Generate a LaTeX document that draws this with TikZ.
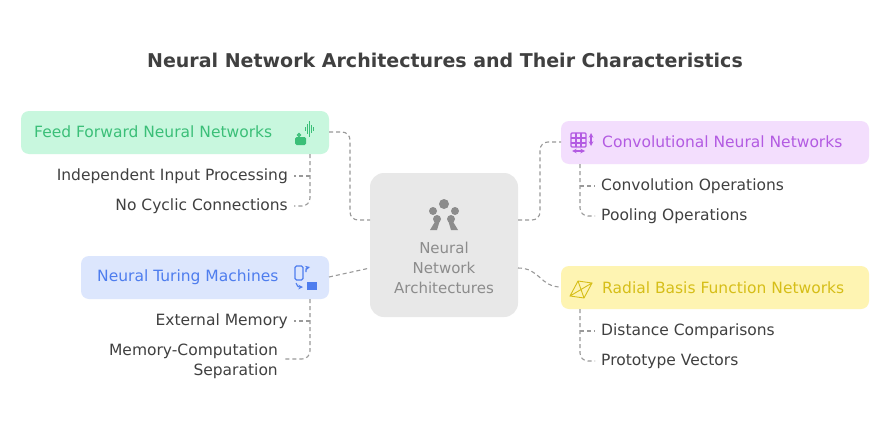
\documentclass[tikz,border=0pt]{standalone}
\usepackage{fontspec}
\setmainfont{DejaVu Sans}
\begin{document}
\begin{tikzpicture}[x=1pt,y=-1pt,
  sub/.style={font=\fontsize{15.5}{20}\selectfont,text=black!75,inner sep=0pt},
  hd/.style={font=\fontsize{15.5}{20}\selectfont,anchor=west,inner sep=0pt},
  conn/.style={draw=black!40,dashed,line width=1.1pt,dash pattern=on 4pt off 3pt,rounded corners=8pt}]
\definecolor{gF}{HTML}{C8F7DE}\definecolor{gT}{HTML}{3BBF78}
\definecolor{bF}{HTML}{DCE6FD}\definecolor{bT}{HTML}{4E7DEE}
\definecolor{pF}{HTML}{F3DEFD}\definecolor{pT}{HTML}{B35BE2}
\definecolor{yF}{HTML}{FEF4B2}\definecolor{yT}{HTML}{D6BE18}
\useasboundingbox (0,0) rectangle (890,420);
\fill[white] (0,0) rectangle (890,420);
\node[font=\fontsize{19}{22}\selectfont\bfseries,text=black!75] (title) at (445,60) {Neural Network Architectures and Their Characteristics};
% center
\fill[black!9,rounded corners=14pt] (370,173) rectangle (518,317);
\node[text=black!45,align=center,font=\fontsize{15}{20}\selectfont] (c) at (444,268) {Neural\\Network\\Architectures};
\node (cen) at (444,245) [minimum width=148pt,minimum height=144pt] {};
\begin{scope}[black!45]
 \fill (444,204) circle (5);\fill (433,211) circle (4);\fill (455,211) circle (4);
 \fill (437,219) circle (4);\fill (451,219) circle (4);
 \fill (430,230)--(436,220)--(440,220)--(437,230)--cycle;
 \fill (458,230)--(452,220)--(448,220)--(451,230)--cycle;
\end{scope}
% boxes
\fill[gF,rounded corners=8pt] (21,111) rectangle (329,154);
\node[text=gT,hd] (ff) at (34,132) {Feed Forward Neural Networks};
\fill[bF,rounded corners=8pt] (81,256) rectangle (329,299);
\node[text=bT,hd] (ntm) at (97,277) {Neural Turing Machines};
\fill[pF,rounded corners=8pt] (561,121) rectangle (869,164);
\node[text=pT,hd] (cnn) at (602,142) {Convolutional Neural Networks};
\fill[yF,rounded corners=8pt] (561,266) rectangle (869,309);
\node[text=yT,hd] (rbf) at (602,288) {Radial Basis Function Networks};
% icons
\begin{scope}[gT,line width=1.2pt]
 \draw (299,135) circle (1.5);\fill[rounded corners=1.5pt] (295,137) rectangle (306,145);
 \foreach \i/\h in {0/4,2/7,4/10,6/6,8/4}{\draw[line width=0.8pt] (305+\i,131-\h)--(305+\i,131+\h-4);}
\end{scope}
\begin{scope}[pT,line width=1.1pt]
 \draw[rounded corners=1pt] (571,133) rectangle (586,147);
 \draw (571,138)--(586,138) (571,143)--(586,143) (576,133)--(576,147) (581,133)--(581,147);
 \draw[<->,>=stealth] (591,133)--(591,146);
 \draw[<->,>=stealth] (572,151)--(585,151);
\end{scope}
\begin{scope}[bT,line width=1.1pt]
 \draw[rounded corners=1.5pt] (295,266) rectangle (303,280);
 \draw[->,>=stealth] (306,272) .. controls (306,268) .. (310,267);
 \draw[->,>=stealth] (296,283) .. controls (298,287) .. (303,287);
 \fill (307,282) rectangle (317,290);
\end{scope}
\begin{scope}[yT,line width=0.9pt]
 \draw (570,296)--(578,281)--(592,283)--(584,298)--cycle (570,296)--(592,283) (578,281)--(584,298);
\end{scope}
% sub items
\node[sub,anchor=east] (f1) at (288,176) {Independent Input Processing};
\node[sub,anchor=east] (f2) at (288,206) {No Cyclic Connections};
\node[sub,anchor=east] (n1) at (288,321) {External Memory};
\node[sub,anchor=east,align=right] (n2) at (278,361) {Memory-Computation\\Separation};
\node[sub,anchor=west] (c1) at (601,186) {Convolution Operations};
\node[sub,anchor=west] (c2) at (601,216) {Pooling Operations};
\node[sub,anchor=west] (r1) at (601,331) {Distance Comparisons};
\node[sub,anchor=west] (r2) at (601,361) {Prototype Vectors};
% connectors
\draw[conn] (329,132)--(350,132)--(350,220)--(370,220);
\draw[conn,rounded corners=0pt] (329,277)--(370,268);
\draw[conn] (518,220)--(540,220)--(540,142)--(561,142);
\draw[conn,rounded corners=0pt] (518,268) .. controls (540,268) and (540,287) .. (561,287);
\draw[conn] (310,154)--(310,206)--(294,206);
\draw[conn,rounded corners=0pt] (310,176)--(294,176);
\draw[conn] (310,299)--(310,359)--(285,359);
\draw[conn,rounded corners=0pt] (310,321)--(294,321);
\draw[conn] (580,164)--(580,216)--(595,216);
\draw[conn,rounded corners=0pt] (580,186)--(595,186);
\draw[conn] (580,309)--(580,361)--(595,361);
\draw[conn,rounded corners=0pt] (580,331)--(595,331);
\end{tikzpicture}
\end{document}
